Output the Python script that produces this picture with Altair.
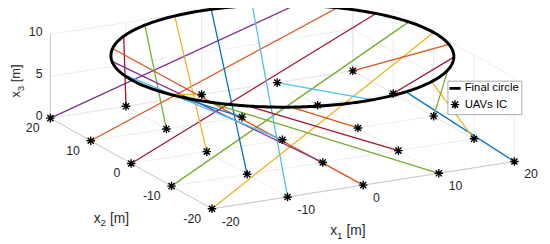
import altair as alt
import numpy as np
import pandas as pd

# ---------------- data ----------------
ic_x1 = [-20, -20, -20, -20, -20, -10, -10, -10, -10, -10, 0, 0, 0, 0, 0,
         10, 10, 10, 10, 10, 20, 20, 20, 20, 20]
ic_x2 = [-20, -10, 0, 10, 20, -20, -10, 0, 10, 20, -20, -10, 0, 10, 20,
         -20, -10, 0, 10, 20, -20, -10, 0, 10, 20]
ic_x3 = [0, 0, 0, 0, 0, 0, 0, 0, 0, 0, 0, 0, 0, 0, 0,
         0, 0, 0, 0, 0, 0, 0, 0, 0, 0]
final_angle_deg = [0.0, 14.4, 28.8, 43.2, 57.6, 72.0, 86.4, 100.8, 115.2, 129.6,
                   144.0, 158.4, 172.8, 187.2, 201.6, 216.0, 230.4, 244.8, 259.2,
                   273.6, 288.0, 302.4, 316.8, 331.2, 345.6]
line_colors = ["#EDB120", "#77AC30", "#A2142F", "#D95319", "#7E2F8E", "#4DBEEE", "#0072BD",
               "#EDB120", "#77AC30", "#A2142F", "#D95319", "#7E2F8E", "#4DBEEE", "#0072BD",
               "#EDB120", "#77AC30", "#A2142F", "#D95319", "#7E2F8E", "#4DBEEE", "#0072BD",
               "#EDB120", "#77AC30", "#A2142F", "#D95319"]
circle_radius = 20
circle_x3 = 10
tick_x1 = [-20, -10, 0, 10, 20]
tick_x2 = [-20, -10, 0, 10, 20]
tick_x3 = [0, 5, 10]
tick_labels_x1 = ["-20", "-10", "0", "10", "20"]
tick_labels_x2 = ["-20", "-10", "0", "10", "20"]
tick_labels_x3 = ["0", "5", "10"]
axis_titles = [("x", "1", "[m]"), ("x", "2", "[m]"), ("x", "3", "[m]")]
legend_labels = ["Final circle", "UAVs IC"]

# ---------------- 3-D view (screen px per data unit) ----------------
ORIGIN = (286.5, 140.0)
E1 = (7.675, -1.2)
E2 = (-4.1, -2.3)
E3 = (0.0, -8.5)


def proj(x1, x2, x3):
    x1 = np.asarray(x1, float)
    x2 = np.asarray(x2, float)
    x3 = np.asarray(x3, float)
    u = ORIGIN[0] + E1[0] * x1 + E2[0] * x2 + E3[0] * x3
    v = ORIGIN[1] + E1[1] * x1 + E2[1] * x2 + E3[1] * x3
    return u, v


X = alt.Scale(domain=[8, 550], nice=False, zero=False)
Y = alt.Scale(domain=[8, 244], reverse=True, nice=False, zero=False)
FONT = "Liberation Sans"
TXT = "#262626"


def xy():
    return dict(x=alt.X("u:Q", scale=X, axis=None), y=alt.Y("v:Q", scale=Y, axis=None))


def segs_df(segs):
    a = np.array([s[0] for s in segs], float)
    b = np.array([s[1] for s in segs], float)
    u, v = proj(a[:, 0], a[:, 1], a[:, 2])
    u2, v2 = proj(b[:, 0], b[:, 1], b[:, 2])
    return pd.DataFrame({"u": u, "v": v, "u2": u2, "v2": v2})


def rule_layer(df, color, width):
    return alt.Chart(df).mark_rule(color=color, strokeWidth=width).encode(
        x2="u2:Q", y2="v2:Q", **xy())


lo1, hi1 = min(tick_x1), max(tick_x1)
lo2, hi2 = min(tick_x2), max(tick_x2)
lo3, hi3 = min(tick_x3), max(tick_x3)

grid = []
for t in tick_x1:
    grid.append(((t, lo2, lo3), (t, hi2, lo3)))
    grid.append(((t, hi2, lo3), (t, hi2, hi3)))
for t in tick_x2:
    grid.append(((lo1, t, lo3), (hi1, t, lo3)))
    grid.append(((hi1, t, lo3), (hi1, t, hi3)))
for t in tick_x3:
    grid.append(((lo1, hi2, t), (hi1, hi2, t)))
    grid.append(((hi1, lo2, t), (hi1, hi2, t)))
grid_layer = rule_layer(segs_df(grid), "#e4e4e4", 0.7)

axes = [((lo1, lo2, lo3), (hi1, lo2, lo3)),
        ((lo1, lo2, lo3), (lo1, hi2, lo3)),
        ((lo1, hi2, lo3), (lo1, hi2, hi3))]
axes_layer = rule_layer(segs_df(axes), "#c4c4c4", 0.9)

# trajectories
th = np.deg2rad(final_angle_deg)
fx1 = circle_radius * np.cos(th)
fx2 = circle_radius * np.sin(th)
fx3 = np.full(len(th), circle_x3)
u0, v0 = proj(ic_x1, ic_x2, ic_x3)
u1, v1 = proj(fx1, fx2, fx3)
ids = [f"U{i:02d}" for i in range(len(ic_x1))]
traj_df = pd.DataFrame({"uav": ids, "u": u0, "v": v0, "u2": u1, "v2": v1})
traj_layer = alt.Chart(traj_df).mark_rule(strokeWidth=1.3).encode(
    x2="u2:Q", y2="v2:Q",
    color=alt.Color("uav:N", scale=alt.Scale(domain=ids, range=line_colors), legend=None),
    **xy())

# final circle
ang = np.linspace(0, 2 * np.pi, 361)
cu, cv = proj(circle_radius * np.cos(ang), circle_radius * np.sin(ang), np.full(361, circle_x3))
circ_df = pd.DataFrame({"u": cu, "v": cv, "o": np.arange(361)})
circ_layer = alt.Chart(circ_df).mark_line(color="black", strokeWidth=3).encode(
    order="o:Q", **xy())

# stars (UAV initial conditions) + legend
STAR = "M-1,0L1,0M0,-1L0,1M-0.72,-0.72L0.72,0.72M-0.72,0.72L0.72,-0.72"
LINE = "M-1.3,-0.16L1.3,-0.16M-1.3,0L1.3,0M-1.3,0.16L1.3,0.16"
star_df = pd.DataFrame({"u": u0, "v": v0, "series": legend_labels[1]})
star_layer = alt.Chart(star_df).mark_point(
    filled=False, color="black", strokeWidth=1.4, size=75, opacity=1
).encode(
    shape=alt.Shape("series:N", scale=alt.Scale(domain=legend_labels, range=[LINE, STAR]),
                    legend=alt.Legend(title=None, orient="none", legendX=446, legendY=72,
                                      fillColor="white", strokeColor="#a8a8a8", padding=2,
                                      labelFont=FONT, labelFontSize=11.5, labelColor="black",
                                      symbolStrokeColor="black", symbolStrokeWidth=1.4,
                                      symbolSize=75, rowPadding=2.5, labelOffset=4,
                                      cornerRadius=0)),
    **xy())


# tick labels
def label_layer(df, align, dx, dy):
    return alt.Chart(df).mark_text(font=FONT, fontSize=12.5, color=TXT, align=align,
                                   baseline="middle", dx=dx, dy=dy).encode(text="t:N", **xy())


a, b = proj(tick_x1, [lo2] * 5, [lo3] * 5)
lab1 = label_layer(pd.DataFrame({"u": a, "v": b, "t": tick_labels_x1}), "left", 10, 13)
a, b = proj([lo1] * 5, tick_x2, [lo3] * 5)
lab2 = label_layer(pd.DataFrame({"u": a, "v": b, "t": tick_labels_x2}), "right", -11, 10)
a, b = proj([lo1] * 3, [hi2] * 3, tick_x3)
lab3 = label_layer(pd.DataFrame({"u": a, "v": b, "t": tick_labels_x3}), "right", -8, -2)


# axis titles: "x", subscript digit, "[m]"
def title_layers(parts, u, v, dx0, dy0, angle, fs=14, fss=10):
    base, sub, unit = parts
    pieces = [(base, fs, 0.0, 0.0), (sub, fss, 0.5 * fs, 4.0),
              (unit, fs, 0.5 * fs + 0.556 * fss + 0.278 * fs, 0.0)]
    out = []
    for txt, size, ddx, ddy in pieces:
        df = pd.DataFrame({"u": [u], "v": [v], "t": [txt]})
        out.append(alt.Chart(df).mark_text(
            font=FONT, fontSize=size, color=TXT, align="left", baseline="alphabetic",
            angle=angle, dx=dx0 + ddx, dy=dy0 + ddy).encode(text="t:N", **xy()))
    return out


a, b = proj([0], [lo2], [lo3])
tit1 = title_layers(axis_titles[0], a[0], b[0], -33.5, 51, 0)
a, b = proj([lo1], [0], [lo3])
tit2 = title_layers(axis_titles[1], a[0], b[0], -38, 60, 0)
a, b = proj([lo1], [hi2], [lo3])
# rotated: anchor near bottom-left of the z axis, offsets in the rotated frame
tit3 = title_layers(axis_titles[2], a[0] - 31, b[0] - 21, 0, 0, 270, fs=13, fss=9.5)

chart = alt.layer(grid_layer, axes_layer, traj_layer, circ_layer, star_layer,
                  lab1, lab2, lab3, *tit1, *tit2, *tit3).properties(
    width=542, height=236, padding=0, autosize=alt.AutoSizeParams(type="none")
).configure_view(stroke=None)

chart.save("out.html", embed_options={"renderer": "svg", "actions": False})
